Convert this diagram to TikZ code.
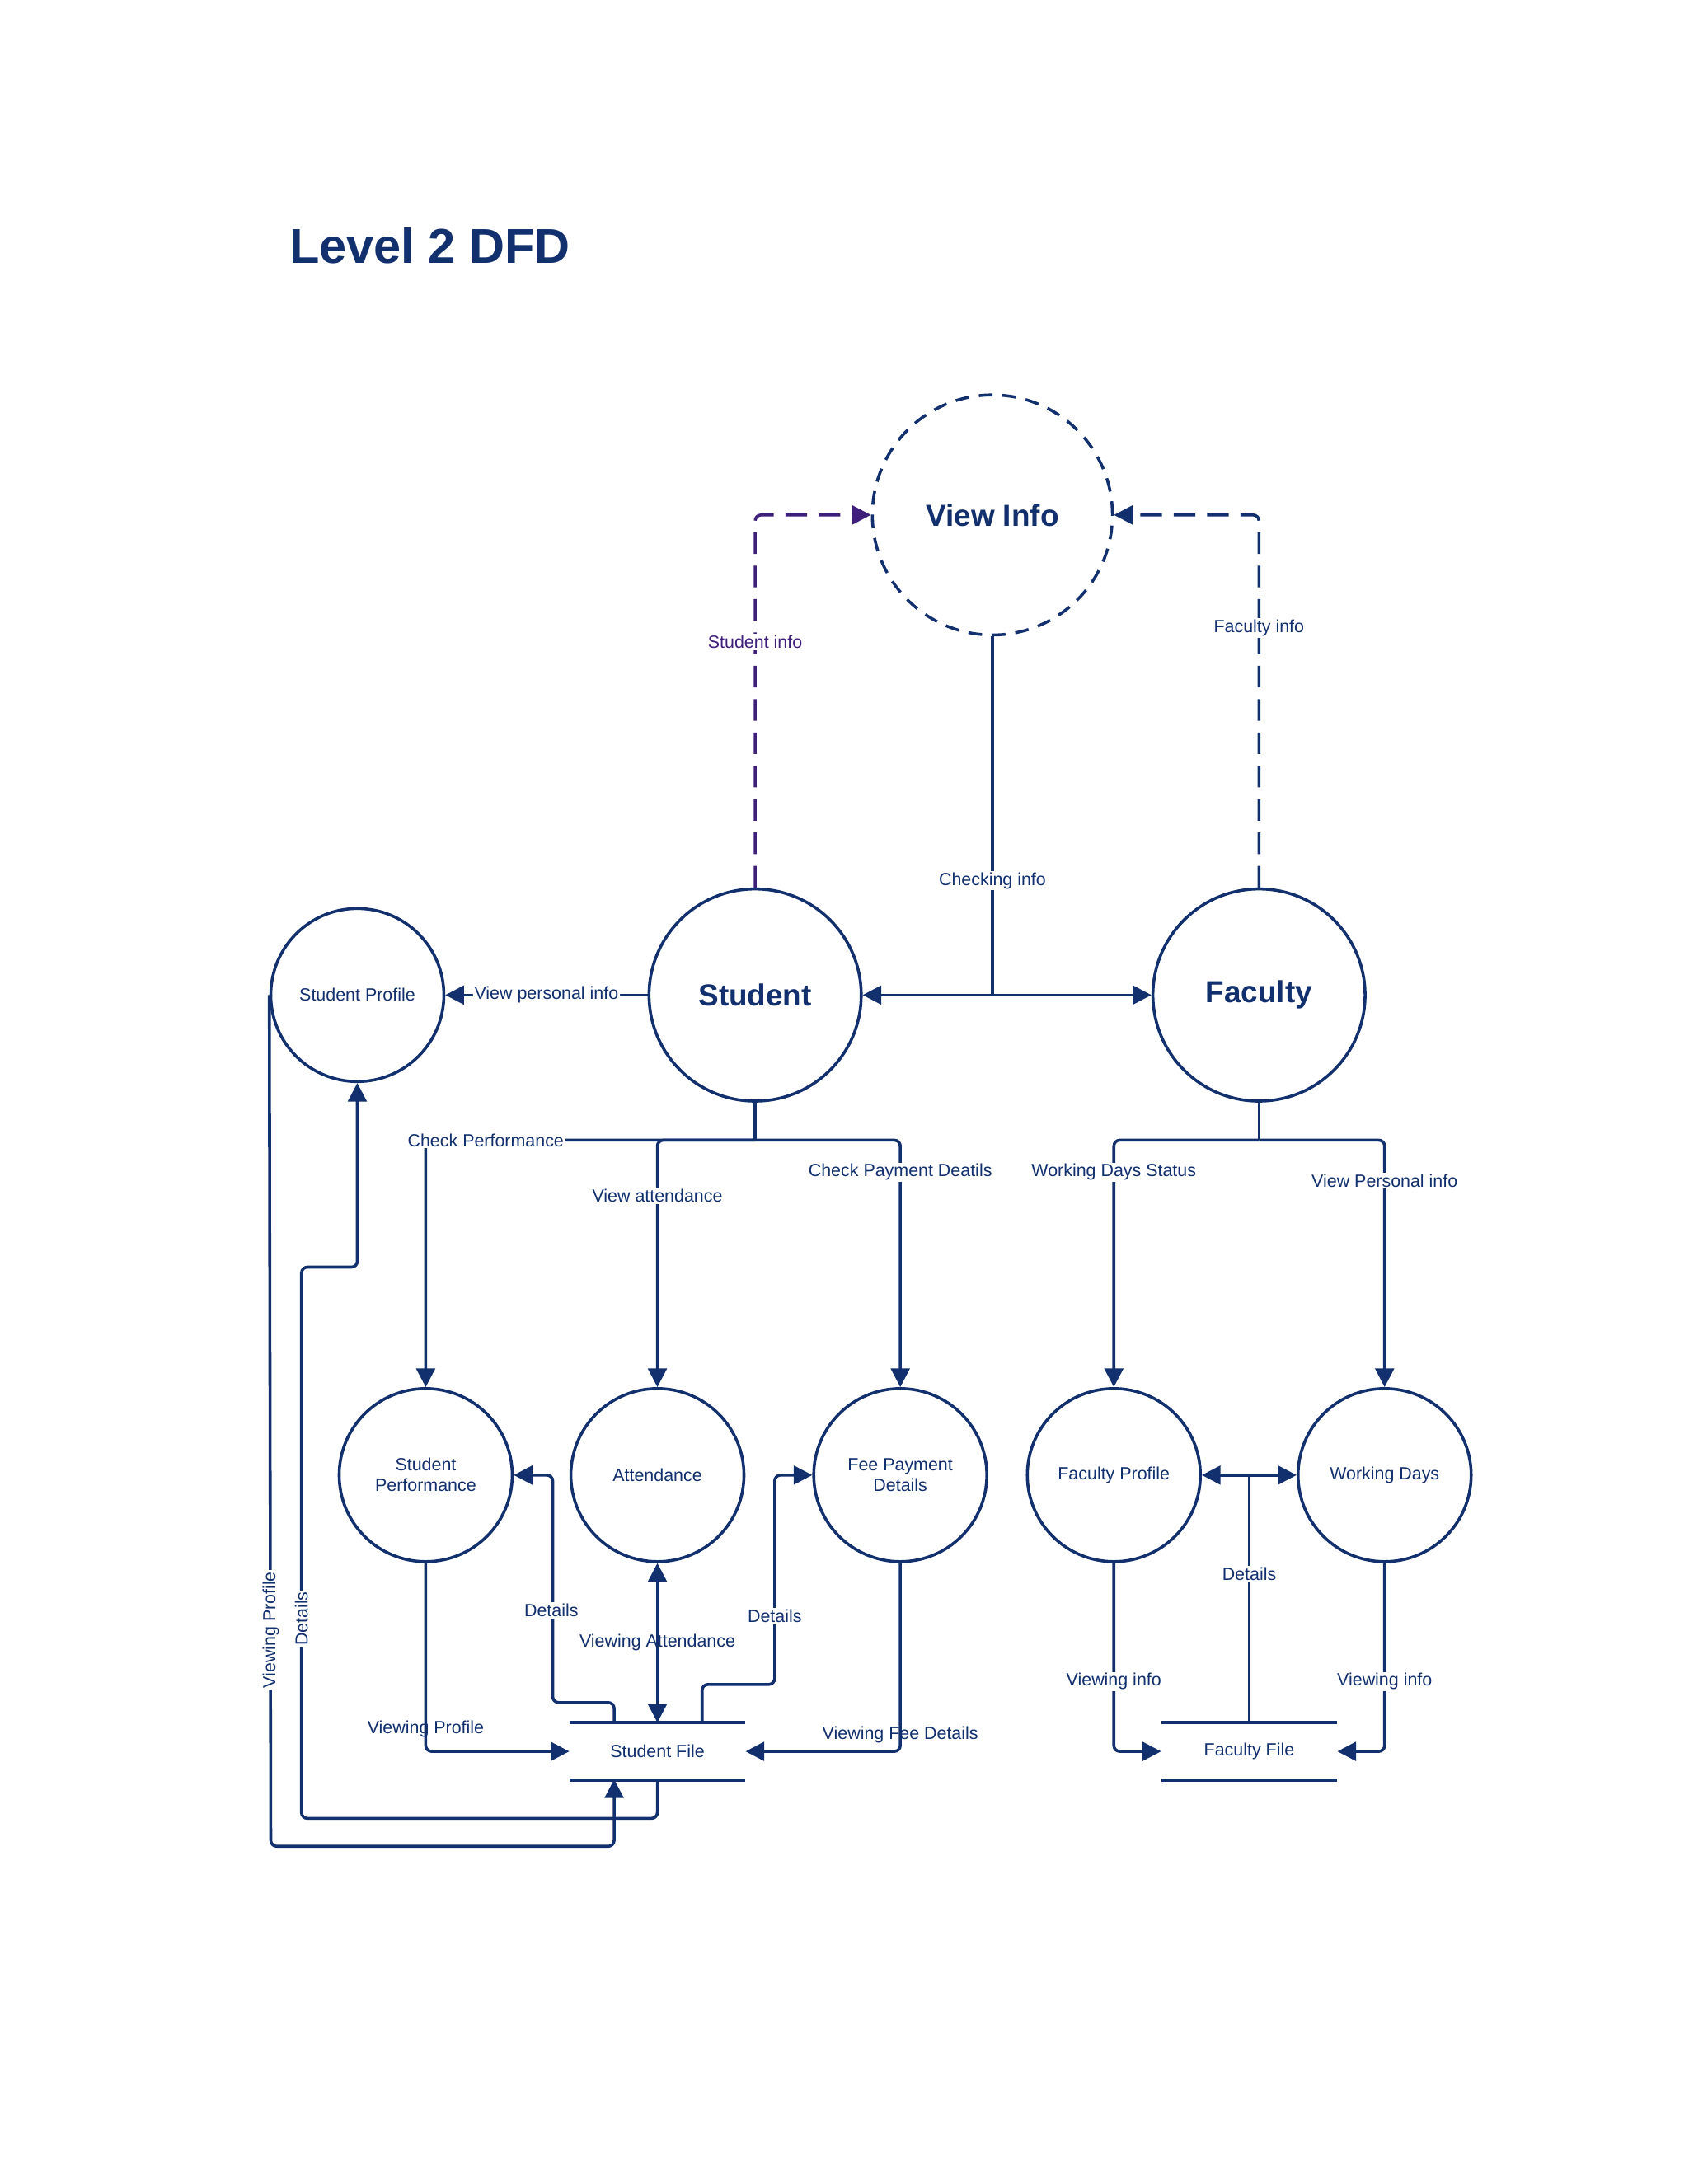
\documentclass[tikz,border=0pt]{standalone}
\usepackage{fontspec}
\setmainfont{Liberation Sans}
\usetikzlibrary{arrows.meta}
\definecolor{navy}{HTML}{12306E}
\definecolor{purp}{HTML}{3E1F7A}
\begin{document}
\begin{tikzpicture}[x=0.5mm,y=-0.5mm,
  every node/.style={text=navy},
  proc/.style={circle,draw=navy,line width=3pt,inner sep=0pt,align=center,font=\fontsize{18}{21}\selectfont},
  big/.style={proc,font=\fontsize{31}{36}\selectfont\bfseries},
  store/.style={minimum width=63mm,minimum height=20.5mm,inner sep=0pt,font=\fontsize{18}{21}\selectfont},
  flow/.style={draw=navy,line width=3pt,rounded corners=6pt,-{Triangle[length=19pt,width=19pt]}},
  lbl/.style={fill=white,inner sep=1.5pt,font=\fontsize{18}{21}\selectfont},
  dflow/.style={flow,dash pattern=on 22pt off 12pt}]
\useasboundingbox[fill=white] (0,0) rectangle (1210,1565);
\node[anchor=west,font=\fontsize{50}{56}\selectfont\bfseries,text=navy] (title) at (205,176) {Level 2 DFD};
\node[big,minimum size=86mm,dashed,dash pattern=on 14pt off 10pt] (vi) at (711,369) {View Info};
\node[big,minimum size=76mm] (st) at (541,713) {Student};
\node[big,minimum size=76mm] (fa) at (902,713) {Faculty};
\node[proc,minimum size=62mm] (sp) at (256,713) {Student Profile};
\node[proc,minimum size=62mm] (pf) at (305,1057) {Student\\Performance};
\node[proc,minimum size=62mm] (at) at (471,1057) {Attendance};
\node[proc,minimum size=62mm] (fee) at (645,1057) {Fee Payment\\Details};
\node[proc,minimum size=62mm] (fp) at (798,1057) {Faculty Profile};
\node[proc,minimum size=62mm] (wd) at (992,1057) {Working Days};
\node[store] (sf) at (471,1255) {Student File};
\node[store] (ff) at (895,1255) {Faculty File};
\draw[navy,line width=3pt] (sf.north west)--(sf.north east) (sf.south west)--(sf.south east);
\draw[navy,line width=3pt] (ff.north west)--(ff.north east) (ff.south west)--(ff.south east);
% top dashed
\draw[dflow,draw=purp,-{Triangle[length=19pt,width=19pt,fill=purp]}] (st.north) |- (vi.west);
\node[lbl,text=purp] (l1) at (541,460) {Student info};
\draw[dflow] (fa.north) |- (vi.east);
\node[lbl] (l2) at (902,450) {Faculty info};
% checking info
\coordinate (ci) at (711,713);
\draw[flow,-] (vi.south) -- (ci);
\node[lbl] (l3) at (711,631) {Checking info};
\draw[flow] (ci) -- (st.east);
\draw[flow] (ci) -- (fa.west);
\draw[flow] (st.west) -- (sp.east) node[midway,lbl]{View personal info};
% student branches
\coordinate (sb) at (541,817);
\draw[flow,-] (st.south) -- (sb);
\draw[flow] (sb) -| (pf.north);
\draw[flow] (sb) -| (at.north);
\draw[flow] (sb) -| (fee.north);
\node[lbl] (l4) at (348,817) {Check Performance};
\node[lbl] (l5) at (471,857) {View attendance};
\node[lbl] (l6) at (645,840) {Check Payment Deatils};
\coordinate (fb) at (902,817);
\draw[flow,-] (fa.south) -- (fb);
\draw[flow] (fb) -| (fp.north);
\draw[flow] (fb) -| (wd.north);
\node[lbl] (l7) at (798,840) {Working Days Status};
\node[lbl] (l8) at (992,846) {View Personal info};
% student file links
\draw[flow] (pf.south) |- (sf.west);
\node[lbl,fill=none] (l9) at (305,1239) {Viewing Profile};
\draw[flow,{Triangle[length=19pt,width=19pt]}-{Triangle[length=19pt,width=19pt]}] (at.south) -- (sf.north);
\node[lbl,fill=none] (l10) at (471,1177) {Viewing Attendance};
\coordinate (d1) at (440,1234);
\draw[flow] (d1) -- (440,1220) -- (396,1220) |- (pf.east);
\node[lbl] (l11) at (395,1154) {Details};
\coordinate (d2) at (503,1234);
\draw[flow] (d2) -- (503,1207) -- (555,1207) |- (fee.west);
\node[lbl] (l12) at (555,1158) {Details};
\draw[flow] (fee.south) |- (sf.east);
\node[lbl,fill=none] (l13) at (645,1243) {Viewing Fee Details};
\draw[flow] (sf.south) -- (471,1303) -- (216,1303) -- (216,908) -- (256,908) -- (sp.south);
\node[lbl,rotate=90] (dl) at (216,1160) {Details};
\coordinate (vpb) at (440,1275);
\draw[flow] (sp.west) -- (194,1323) -- (440,1323) -- (vpb);
\node[lbl,rotate=90] (vpl) at (194,1168) {Viewing Profile};
% faculty file
\draw[flow] (fp.south) |- (ff.west);
\draw[flow] (wd.south) |- (ff.east);
\node[lbl] (l14) at (798,1205) {Viewing info};
\node[lbl] (l15) at (992,1205) {Viewing info};
\coordinate (fd) at (895,1057);
\draw[flow,-] (ff.north) -- (fd);
\node[lbl] (l16) at (895,1128) {Details};
\draw[flow] (fd) -- (fp.east);
\draw[flow] (fd) -- (wd.west);
\end{tikzpicture}
\end{document}
